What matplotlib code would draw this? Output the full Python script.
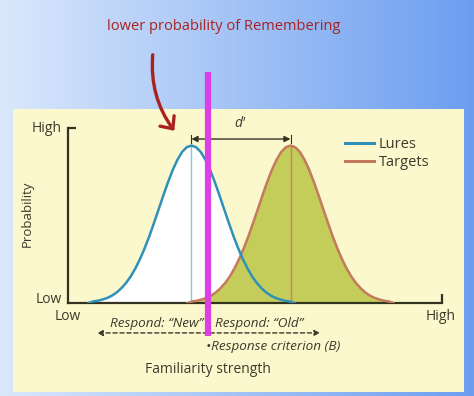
import numpy as np
import matplotlib
matplotlib.use('Agg')
import matplotlib.pyplot as plt
from matplotlib.patches import Rectangle, FancyArrowPatch
from matplotlib.lines import Line2D

# Familiarity axis runs 0 (Low) to 10 (High); probability 0 (Low) to 1 (High).
lures_x = [0.55, 0.675, 0.8, 0.925, 1.05, 1.175, 1.3, 1.425, 1.55, 1.675, 1.8, 1.925, 2.05,
           2.175, 2.3, 2.425, 2.55, 2.675, 2.8, 2.925, 3.05, 3.175, 3.3, 3.425, 3.55, 3.675,
           3.8, 3.925, 4.05, 4.175, 4.3, 4.425, 4.55, 4.675, 4.8, 4.925, 5.05, 5.175, 5.3,
           5.425, 5.55, 5.675, 5.8, 5.925, 6.05]
lures_y = [0.0, 0.009, 0.013, 0.020, 0.029, 0.042, 0.060, 0.084, 0.114, 0.151, 0.197, 0.251,
           0.313, 0.382, 0.458, 0.536, 0.615, 0.691, 0.760, 0.818, 0.863, 0.890, 0.900, 0.890,
           0.863, 0.818, 0.760, 0.691, 0.615, 0.536, 0.458, 0.382, 0.313, 0.251, 0.197, 0.151,
           0.114, 0.084, 0.060, 0.042, 0.029, 0.020, 0.013, 0.009, 0.0]
targets_x = [3.2, 3.325, 3.45, 3.575, 3.7, 3.825, 3.95, 4.075, 4.2, 4.325, 4.45, 4.575, 4.7,
             4.825, 4.95, 5.075, 5.2, 5.325, 5.45, 5.575, 5.7, 5.825, 5.95, 6.075, 6.2, 6.325,
             6.45, 6.575, 6.7, 6.825, 6.95, 7.075, 7.2, 7.325, 7.45, 7.575, 7.7, 7.825, 7.95,
             8.075, 8.2, 8.325, 8.45, 8.575, 8.7]
targets_y = [0.0, 0.009, 0.013, 0.020, 0.029, 0.042, 0.060, 0.084, 0.114, 0.151, 0.197, 0.251,
             0.313, 0.382, 0.458, 0.536, 0.615, 0.691, 0.760, 0.818, 0.863, 0.890, 0.900, 0.890,
             0.863, 0.818, 0.760, 0.691, 0.615, 0.536, 0.458, 0.382, 0.313, 0.251, 0.197, 0.151,
             0.114, 0.084, 0.060, 0.042, 0.029, 0.020, 0.013, 0.009, 0.0]
lures_mean = 3.3
targets_mean = 5.95
criterion = 3.75

W, H = 474, 396
fig = plt.figure(figsize=(W / 100, H / 100), dpi=100)
plt.rcParams['font.family'] = ['Open Sans', 'DejaVu Sans']

# background gradient + yellow panel
bg = fig.add_axes([0, 0, 1, 1])
bg.set_xlim(0, W)
bg.set_ylim(H, 0)
bg.axis('off')
left_c = np.array([218, 232, 252]) / 255
right_c = np.array([108, 158, 240]) / 255
t = np.linspace(0, 1, 256)[None, :, None]
grad = left_c * (1 - t) + right_c * t
bg.imshow(grad, extent=[0, W, H, 0], aspect='auto', zorder=0)
bg.add_patch(Rectangle((13, 109), 451, 283, facecolor='#fcf8cd', edgecolor='none', zorder=1))

ax = fig.add_axes([68 / W, (H - 303) / H, 374 / W, 175 / H])
ax.set_xlim(0, 10)
ax.set_ylim(0, 1)
ax.patch.set_alpha(0)
for s in ['top', 'right']:
    ax.spines[s].set_visible(False)
for s in ['left', 'bottom']:
    ax.spines[s].set_color('#333322')
    ax.spines[s].set_linewidth(1.6)
ax.set_xticks([])
ax.set_yticks([])

dark = '#3b3a2c'
blue = '#2f90b8'
brown = '#c47a5c'

# end ticks of the axes
ax.plot([0, 0.22], [1, 1], color='#333322', lw=1.6, clip_on=False, solid_capstyle='butt')
ax.plot([10, 10], [0, 0.05], color='#333322', lw=1.6, clip_on=False, solid_capstyle='butt')

ax.fill_between(lures_x, 0, lures_y, color='white', zorder=1)
ax.fill_between(targets_x, 0, targets_y, color='#c5cd5a', zorder=2)
ax.plot([lures_mean, lures_mean], [0, 0.9], color='#8ec3dc', lw=1.0, zorder=3)
ax.plot([targets_mean, targets_mean], [0, 0.9], color='#c0846a', lw=1.0, zorder=3)
ax.plot(targets_x, targets_y, color=brown, lw=1.8, zorder=4)
ax.plot(lures_x, lures_y, color=blue, lw=1.8, zorder=5)

# d' arrow
ax.annotate('', xy=(targets_mean, 0.937), xytext=(lures_mean, 0.937),
            arrowprops=dict(arrowstyle='<|-|>', color='#333322', lw=1.0,
                            mutation_scale=9, shrinkA=0, shrinkB=0))
ax.plot([lures_mean, lures_mean], [0.915, 0.96], color='#333322', lw=0.8)
ax.plot([targets_mean, targets_mean], [0.915, 0.96], color='#333322', lw=0.8)
ax.text(4.6, 0.985, "d'", style='italic', fontsize=10, color=dark, ha='center', va='bottom')

# criterion line
ax.plot([criterion, criterion], [-0.186, 1.32], color='#dd3fe6', lw=4.5, zorder=6,
        clip_on=False, solid_capstyle='butt')

# legend
handles = [Line2D([], [], color=blue, lw=2.2), Line2D([], [], color=brown, lw=2.2)]
ax.legend(handles, ['Lures', 'Targets'], loc='upper left', bbox_to_anchor=(0.705, 1.025),
          frameon=False, fontsize=10.5, handlelength=2.0, handletextpad=0.35,
          labelspacing=0.2, labelcolor=dark)

# axis labels
ax.text(-0.16, 1.0, 'High', ha='right', va='center', fontsize=10, color=dark)
ax.text(-0.16, 0.02, 'Low', ha='right', va='center', fontsize=10, color=dark)
ax.text(-1.1, 0.51, 'Probability', rotation=90, ha='center', va='center', fontsize=9.5, color=dark)
ax.text(0.0, -0.075, 'Low', ha='center', va='center', fontsize=10, color=dark)
ax.text(9.95, -0.075, 'High', ha='center', va='center', fontsize=10, color=dark)
ax.text(3.62, -0.115, 'Respond: \u201cNew\u201d', style='italic', ha='right', va='center',
        fontsize=9.7, color=dark)
ax.text(3.92, -0.115, 'Respond: \u201cOld\u201d', style='italic', ha='left', va='center',
        fontsize=9.7, color=dark)
ax.annotate('', xy=(0.78, -0.171), xytext=(6.74, -0.171), annotation_clip=False,
            arrowprops=dict(arrowstyle='<|-|>', color=dark, lw=1.0, ls=(0, (3, 2)),
                            mutation_scale=8, shrinkA=0, shrinkB=0))
ax.text(criterion - 0.05, -0.25, '\u2022Response criterion (B)', style='italic', ha='left',
        va='center', fontsize=9.7, color=dark)
ax.text(criterion, -0.378, 'Familiarity strength', ha='center', va='center', fontsize=10, color=dark)

# handwritten note
fig.text(224 / W, 1 - 26 / H, 'lower probability of Remembering', color='#a8231f',
         fontsize=10.5, ha='center', va='center')
arrow = FancyArrowPatch((153 / W, 1 - 52 / H), (176 / W, 1 - 133 / H),
                        transform=fig.transFigure, connectionstyle='arc3,rad=0.2',
                        arrowstyle='->,head_length=0.5,head_width=0.45', mutation_scale=14,
                        color='#a8231f', lw=2.4)
fig.add_artist(arrow)

fig.savefig('out.png', dpi=100)
